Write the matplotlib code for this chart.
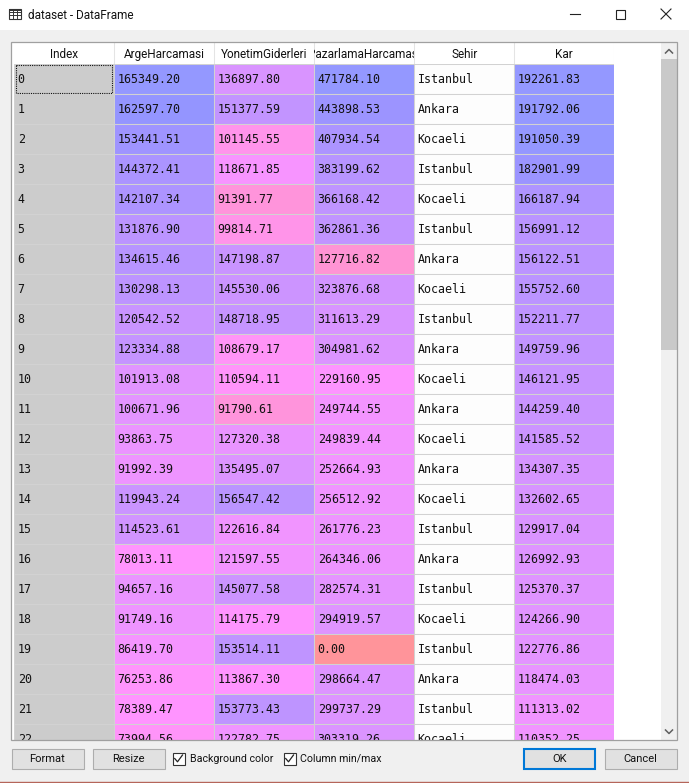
import matplotlib
matplotlib.use("Agg")
import colorsys
import matplotlib.pyplot as plt
from matplotlib.patches import Rectangle
from matplotlib.lines import Line2D
from matplotlib.transforms import Bbox, TransformedBbox

COLUMNS = ["Index", "ArgeHarcamasi", "YonetimGiderleri", "PazarlamaHarcamasi", "Sehir", "Kar"]
arge = [165349.20, 162597.70, 153441.51, 144372.41, 142107.34, 131876.90, 134615.46, 130298.13,
        120542.52, 123334.88, 101913.08, 100671.96, 93863.75, 91992.39, 119943.24, 114523.61,
        78013.11, 94657.16, 91749.16, 86419.70, 76253.86, 78389.47, 73994.56]
yonetim = [136897.80, 151377.59, 101145.55, 118671.85, 91391.77, 99814.71, 147198.87, 145530.06,
           148718.95, 108679.17, 110594.11, 91790.61, 127320.38, 135495.07, 156547.42, 122616.84,
           121597.55, 145077.58, 114175.79, 153514.11, 113867.30, 153773.43, 122782.75]
pazarlama = [471784.10, 443898.53, 407934.54, 383199.62, 366168.42, 362861.36, 127716.82, 323876.68,
             311613.29, 304981.62, 229160.95, 249744.55, 249839.44, 252664.93, 256512.92, 261776.23,
             264346.06, 282574.31, 294919.57, 0.00, 298664.47, 299737.29, 303319.26]
sehir = ["Istanbul", "Ankara", "Kocaeli", "Istanbul", "Kocaeli", "Istanbul", "Ankara", "Kocaeli",
         "Istanbul", "Ankara", "Kocaeli", "Ankara", "Kocaeli", "Ankara", "Kocaeli", "Istanbul",
         "Ankara", "Istanbul", "Kocaeli", "Istanbul", "Ankara", "Istanbul", "Kocaeli"]
kar = [192261.83, 191792.06, 191050.39, 182901.99, 166187.94, 156991.12, 156122.51, 155752.60,
       152211.77, 149759.96, 146121.95, 144259.40, 141585.52, 134307.35, 132602.65, 129917.04,
       126992.93, 125370.37, 124266.90, 122776.86, 118474.03, 111313.02, 110352.25]
# column ranges of the whole dataset (the table only shows its first rows)
arge_range = (0.0, 165349.20)
yonetim_range = (51283.14, 182645.56)
pazarlama_range = (0.0, 471784.10)
kar_range = (14681.40, 192261.83)

W, H = 689, 783
MONO = "DejaVu Sans Mono"
UI = "Roboto"
plt.rcParams["font.family"] = [UI, "DejaVu Sans"]

fig = plt.figure(figsize=(W / 100, H / 100), dpi=100, facecolor="#f0f0f0")


def px_axes(x0, y0, x1, y1, zorder=1):
    return fig.add_axes([x0 / W, 1 - y1 / H, (x1 - x0) / W, (y1 - y0) / H], zorder=zorder)


def cell_colour(value, lo, hi):
    """Spyder's colouring: hue from the value, drawn at 60% alpha over white."""
    hue = 0.66 + 0.33 * (hi - value) / (hi - lo)
    r, g, b = colorsys.hsv_to_rgb(hue % 1.0, 0.7, 1.0)
    return tuple(0.6 * c + 0.4 for c in (r, g, b))


# ---- window chrome, in pixels ----
ui = px_axes(0, 0, W, H, zorder=1)
ui.set_xlim(0, W)
ui.set_ylim(H, 0)
ui.axis("off")
ui.add_patch(Rectangle((0, 0), W, 30, fc="white", ec="none"))
ui.add_patch(Rectangle((10.5, 41.5), 666.5, 698.5, fc="white", ec="none"))
ui.add_line(Line2D([0, W], [781.5, 781.5], color="#b5655a", lw=1.0))
ui.text(28, 15.5, "dataset - DataFrame", fontsize=8.5, va="center", ha="left", color="#111111")

# title icon
ui.add_patch(Rectangle((8.5, 8.5), 12, 10, fc="none", ec="#333333", lw=0.8))
ui.add_patch(Rectangle((8.5, 8.5), 12, 2.5, fc="#333333", ec="none"))
for gx in (12.5, 16.5):
    ui.add_line(Line2D([gx, gx], [8.5, 18.5], color="#333333", lw=0.7))
for gy in (12, 15.2):
    ui.add_line(Line2D([8.5, 20.5], [gy, gy], color="#333333", lw=0.7))

# window controls
ui.add_line(Line2D([570, 580], [14, 14], color="#222222", lw=0.8))
ui.add_patch(Rectangle((615.5, 9.5), 9, 9, fc="none", ec="#222222", lw=0.8))
ui.add_line(Line2D([661, 671], [9, 19], color="#222222", lw=0.8))
ui.add_line(Line2D([661, 671], [19, 9], color="#222222", lw=0.8))

# scrollbar
ui.add_patch(Rectangle((661, 42), 16, 698, fc="#f0f0f0", ec="none"))
ui.add_patch(Rectangle((661, 59), 15.5, 291, fc="#c9c9c9", ec="none"))
ui.add_line(Line2D([665.5, 669, 672.5], [53, 49.5, 53], color="#606060", lw=1.1))
ui.add_line(Line2D([665.5, 669, 672.5], [730, 733.5, 730], color="#606060", lw=1.1))

# buttons
for x0, label in ((11, "Format"), (92, "Resize"), (604, "Cancel")):
    ui.add_patch(Rectangle((x0 + 0.5, 748.5), 72, 20, fc="#e1e1e1", ec="#adadad", lw=0.8))
    ui.text(x0 + 36, 759, label, fontsize=8.0, ha="center", va="center", color="#111111")
ui.add_patch(Rectangle((524, 749), 71, 19.5, fc="#e1e1e1", ec="#0078d7", lw=1.5))
ui.text(559.5, 759, "OK", fontsize=8.0, ha="center", va="center", color="#111111")

# check boxes
for x0, label in ((172.5, "Background color"), (283.5, "Column min/max")):
    ui.add_patch(Rectangle((x0, 752.5), 12, 12, fc="white", ec="#333333", lw=0.8))
    ui.add_line(Line2D([x0 + 2.2, x0 + 5, x0 + 10], [758.5, 761.8, 755], color="#222222", lw=0.9))
    ui.text(x0 + 17, 759, label, fontsize=7.7, ha="left", va="center", color="#111111")

# ---- table body: one column per unit, one row per unit ----
rows = list(range(len(arge)))
numeric = {1: (arge, arge_range), 2: (yonetim, yonetim_range),
           3: (pazarlama, pazarlama_range), 5: (kar, kar_range)}
GRID = "#d2d2d2"

ax = px_axes(14.2, 64.2, 614.2, 740, zorder=2)
ax.set_xlim(0, len(COLUMNS))
ax.set_ylim((740 - 64.2) / 30, 0)
ax.axis("off")
ax.patch.set_visible(False)

TEXT_KW = dict(family=MONO, fontsize=8.4, va="center", ha="left", color="#111111", clip_on=True)
PAD = 0.035
TEXT_MID = 0.5
for r in rows:
    ax.add_patch(Rectangle((0, r), 1, 1, fc="#cccccc", ec=GRID, lw=0.75))
    ax.text(0 + PAD, r + TEXT_MID, str(r), **TEXT_KW)
    ax.add_patch(Rectangle((4, r), 1, 1, fc="#fdfdfd", ec=GRID, lw=0.75))
    ax.text(4 + PAD, r + TEXT_MID, sehir[r], **TEXT_KW)
    for c, (vals, (lo, hi)) in numeric.items():
        ax.add_patch(Rectangle((c, r), 1, 1, fc=cell_colour(vals[r], lo, hi), ec=GRID, lw=0.75))
        ax.text(c + PAD, r + TEXT_MID, f"{vals[r]:.2f}", **TEXT_KW)

# focus rectangle on the first index cell
ax.add_patch(Rectangle((0.02, 0.03), 0.96, 0.94, fc="none", ec="#111111", lw=0.8, ls=(0, (1, 1)), zorder=5))

# ---- header ----
hd = px_axes(14.2, 42, 614.2, 64.2, zorder=2)
hd.set_xlim(0, len(COLUMNS))
hd.set_ylim(1, 0)
hd.axis("off")
for c, name in enumerate(COLUMNS):
    hd.add_patch(Rectangle((c, 0), 1, 1, fc="white", ec="none"))
    hd.add_line(Line2D([c + 1, c + 1], [0, 1], color="#e4e4e4", lw=0.75))
    t = hd.text(c + 0.5, 0.55, name, fontsize=8.5, ha="center", va="center", color="#111111")
    t.set_clip_box(TransformedBbox(Bbox([[c, 0], [c + 1, 1]]), hd.transData))
    t.set_clip_on(True)

# frame drawn last, above the header
top = px_axes(0, 0, W, H, zorder=3)
top.set_xlim(0, W)
top.set_ylim(H, 0)
top.axis("off")
top.patch.set_visible(False)
top.add_patch(Rectangle((10.5, 41.5), 666.5, 698.5, fc="none", ec="#a0a0a0", lw=0.9))

fig.savefig("out.png", dpi=100, facecolor=fig.get_facecolor())
